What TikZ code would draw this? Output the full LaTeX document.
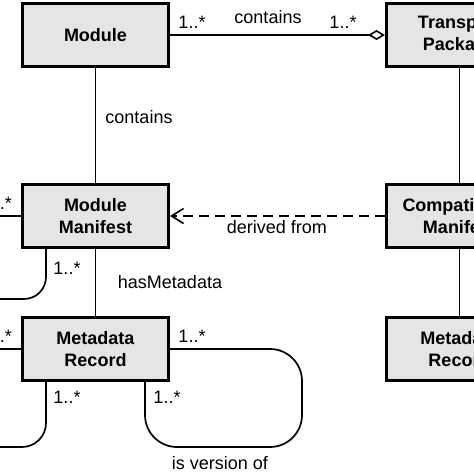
\documentclass[tikz,border=0pt]{standalone}
\usepackage{fontspec}
\setmainfont{Liberation Sans}
\usetikzlibrary{arrows.meta}

\begin{document}
\begin{tikzpicture}[x=1pt,y=-1pt,
  every node/.style={inner sep=0pt},
  cls/.style={draw=black,line width=3pt,fill=black!10,minimum width=146pt,minimum height=63pt,
    align=center,font=\fontsize{18}{22}\selectfont\bfseries},
  lbl/.style={font=\fontsize{18}{22}\selectfont},
  link/.style={line width=1.7pt},
  aggr/.style={link,-{Diamond[open,length=17pt,width=10pt,line width=1.6pt]}},
  deriv/.style={link,dash pattern=on 10pt off 6pt,-{Straight Barb[length=12pt,width=15pt,line width=1.6pt]}}]
\clip (0,0) rectangle (474,474);
% classes
\node [cls] (module) at (95.5,35) {Module};
\node [cls] (manifest) at (95.5,216) {Module\\Manifest};
\node [cls] (record) at (95.5,349) {Metadata\\Record};
\node [cls] (transport) at (459.5,35) {Transport\\Package};
\node [cls] (compat) at (459.5,216) {Compatibility\\Manifest};
\node [cls] (record2) at (459.5,349) {Metadata\\Record};
% free ends
\coordinate (mfleft) at (-5,216);
\coordinate (mfloop) at (-5,299);
\coordinate (recleft) at (-5,349);
\coordinate (recloop) at (-5,447);
% connectors
\draw [aggr] (module.east) -- (transport.west);
\draw [link] (module) -- (manifest);
\draw [link] (manifest) -- (record);
\draw [link] (transport) -- (compat);
\draw [link] (compat) -- (record2);
\draw [deriv] (compat.west) -- (manifest.east);
\draw [link] (manifest.west) -- (mfleft);
\draw [link] (record.west) -- (recleft);
\draw [link,rounded corners=22pt] (manifest.south -| 46,0) -- (46,299) -- (mfloop);
\draw [link,rounded corners=24pt] (record.south -| 46,0) -- (46,447) -- (recloop);
\draw [link,rounded corners=32pt] (record.east) -- (302,349) -- (302,447) -- (145,447) -- (record.south -| 145,0);
% labels
\node [lbl] (m1) at (192,22) {1..*};
\node [lbl] (c1) at (268,17) {contains};
\node [lbl] (m2) at (343,22) {1..*};
\node [lbl] (c2) at (139,117) {contains};
\node [lbl] (d1) at (277,227) {derived from};
\node [lbl,anchor=east] (m3) at (12,203) {1..*};
\node [lbl] (m4) at (67,268) {1..*};
\node [lbl] (h1) at (170,282) {hasMetadata};
\node [lbl,anchor=east] (m5) at (12,336) {1..*};
\node [lbl] (m6) at (192,336) {1..*};
\node [lbl] (m7) at (67,397) {1..*};
\node [lbl] (m8) at (167,397) {1..*};
\node [lbl] (v1) at (220,463) {is version of};
\end{tikzpicture}
\end{document}
